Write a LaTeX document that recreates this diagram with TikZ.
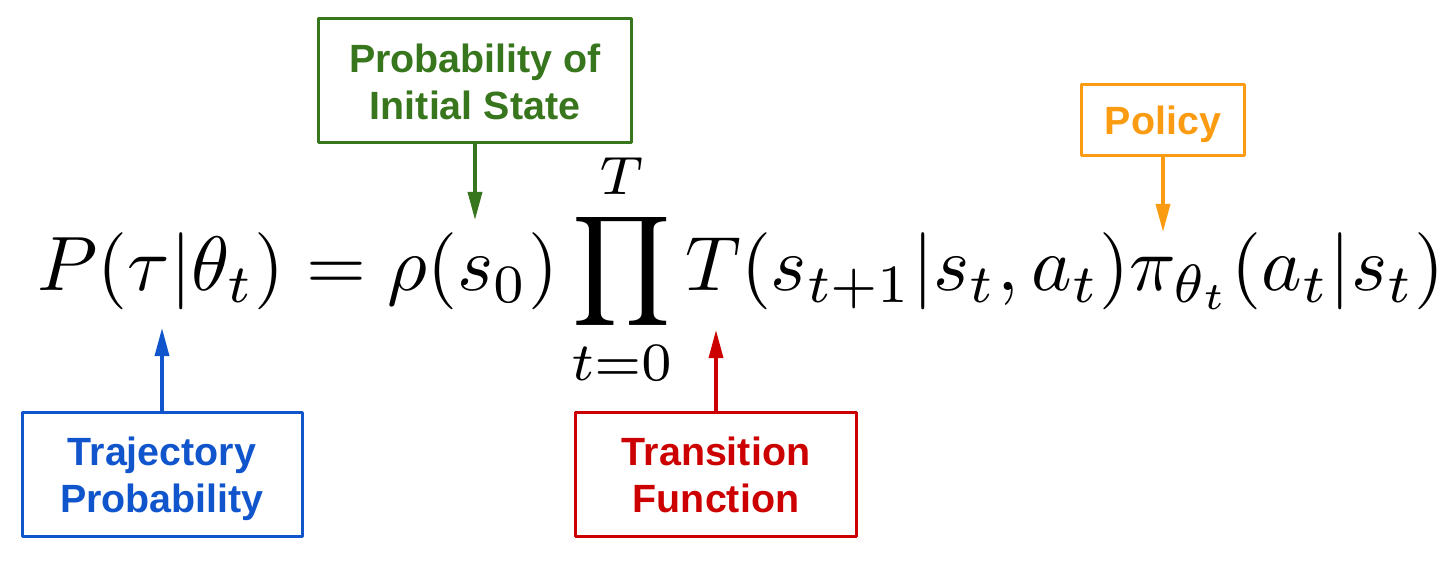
\documentclass[tikz,border=0pt]{standalone}
\usepackage{fontspec}
\setsansfont{Liberation Sans}
\usepackage{amsmath}
\usetikzlibrary{positioning,arrows.meta}
\definecolor{blueC}{HTML}{1155CC}
\definecolor{greenC}{HTML}{38761D}
\definecolor{redC}{HTML}{CC0000}
\definecolor{orangeC}{HTML}{FB9B12}
\newcommand{\gy}{\vphantom{gyP}}
\newcommand{\gtop}{\rule{0pt}{19pt}}
\tikzset{
	lab/.style={draw=#1,text=#1,line width=1.5pt,align=center,inner sep=0pt,font=\sffamily\bfseries\fontsize{19.7}{23.5}\selectfont},
	arr/.style={draw=#1,line width=1.7pt,-{Stealth[length=14pt,width=7pt,inset=0pt]}}
}
\begin{document}
\begin{tikzpicture}[x=0.5pt,y=-0.5pt,line join=round]
	\useasboundingbox (0,0) rectangle (1456,561);
	\node (eq) at (741,269) [inner sep=0pt,anchor=center]{\scalebox{3.855}{$\displaystyle P(\tau|\theta_t)=\rho(s_0)\prod_{t=0}^{T}T(s_{t+1}|s_t,a_t)\pi_{\theta_t}(a_t|s_t)$}};
	% boxes
	\node (prob) at (475,81) [lab=greenC,minimum width=156.5pt,minimum height=62pt]{\gtop\gy Probability of\\\gy Initial State};
	\node (pol) at (1163,120) [lab=orangeC,minimum width=81.5pt,minimum height=35.5pt]{\gtop\gy Policy};
	\node (traj) at (162,474) [lab=blueC,minimum width=140pt,minimum height=62pt]{\gtop\gy Trajectory\\\gy Probability};
	\node (trans) at (716,474) [lab=redC,minimum width=140.5pt,minimum height=62pt]{\gtop\gy Transition\\\gy Function};
	% arrows
	\coordinate (pa) at (475,220);
	\coordinate (pb) at (1163,232);
	\coordinate (pc) at (162,328);
	\coordinate (pd) at (716,330);
	\draw[arr=greenC] (prob.south)--(pa);
	\draw[arr=orangeC] (pol.south)--(pb);
	\draw[arr=blueC] (traj.north)--(pc);
	\draw[arr=redC] (trans.north)--(pd);
\end{tikzpicture}
\end{document}
